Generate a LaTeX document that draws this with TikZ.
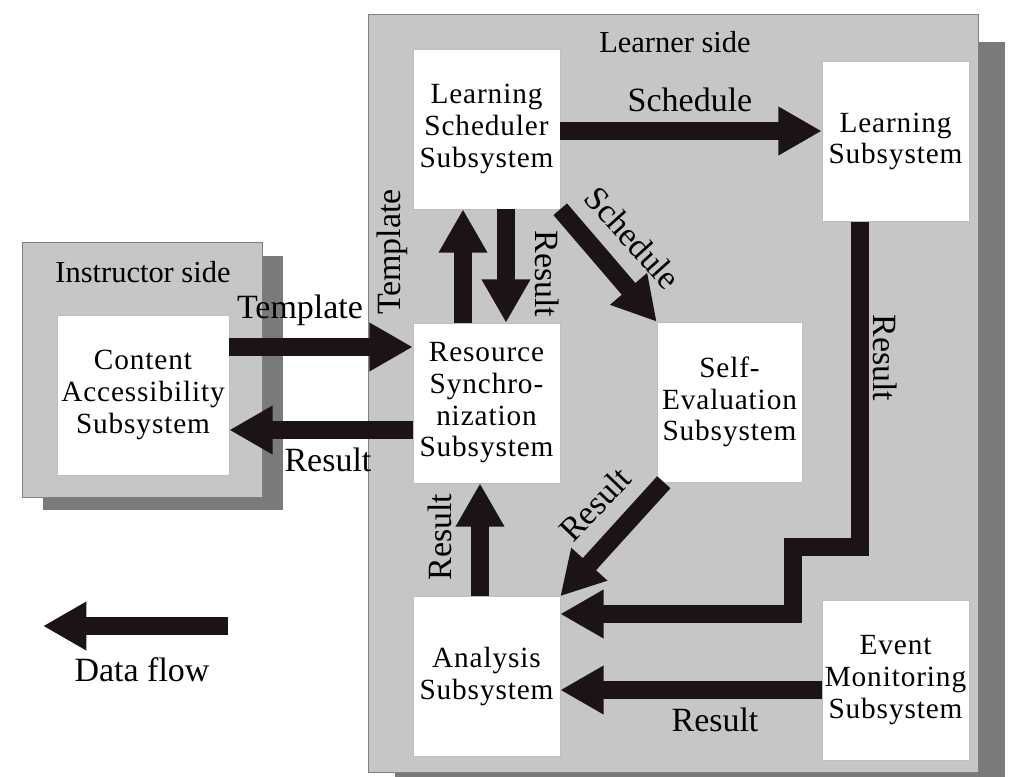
\documentclass[tikz,border=0pt]{standalone}
\usepackage{fontspec}
\setmainfont{Liberation Serif}
\usetikzlibrary{arrows.meta}

\definecolor{panelgray}{RGB}{198,198,198}
\definecolor{shadowgray}{RGB}{122,122,122}
\definecolor{arrowblack}{RGB}{28,20,20}

\begin{document}
\begin{tikzpicture}[x=0.03cm,y=-0.03cm,
	box/.style={draw=gray!50,fill=white,inner sep=0pt,minimum width=4.41cm,minimum height=4.8cm,align=center,font=\fontsize{25}{27}\selectfont\addfontfeatures{LetterSpace=3}},
	flow/.style={draw=arrowblack,line width=15.3pt,line join=miter,-{Triangle[width=39pt,length=37pt]}},
	lab/.style={font=\fontsize{29}{30}\selectfont,inner sep=0pt},
	side/.style={font=\fontsize{26}{28}\selectfont,inner sep=0pt}]
	\useasboundingbox (0,0) rectangle (1024,777);
	% the two sides
	\fill[shadowgray] (43,256) rectangle (283,510);
	\filldraw[fill=panelgray,draw=gray] (22,242) rectangle (262,497);
	\fill[shadowgray] (395,42) rectangle (1005,777);
	\filldraw[fill=panelgray,draw=gray] (368,14) rectangle (978,772);
	\node[side] (IS) at (143,272) {Instructor side};
	\node[side] (LRS) at (675,42) {Learner side};
	% subsystems
	\node[box,minimum width=5.16cm] (CA) at (143,395) {Content\\Accessibility\\Subsystem};
	\node[box] (LS) at (486.5,129) {Learning\\Scheduler\\Subsystem};
	\node[box] (LN) at (895.5,141.5) {Learning\\Subsystem};
	\node[box] (RS) at (486.5,403) {Resource\\Synchro-\\nization\\Subsystem};
	\node[box,minimum width=4.35cm] (SE) at (729.5,402) {Self-\\Evaluation\\Subsystem};
	\node[box] (AN) at (486.5,676.5) {Analysis\\Subsystem};
	\node[box] (EM) at (895.5,680) {Event\\Monitoring\\Subsystem};
	% data flows
	\draw[flow] (CA.east |- 0,347) -- (RS.west |- 0,347);
	\draw[flow] (RS.west |- 0,430) -- (CA.east |- 0,430);
	\draw[flow] (LS.east |- 0,131) -- (LN.west |- 0,131);
	\draw[flow] (RS.north -| 463,0) -- (LS.south -| 463,0);
	\draw[flow] (LS.south -| 506,0) -- (RS.north -| 506,0);
	\draw[flow] (LS.south east) -- (SE.north west);
	\draw[flow] ([xshift=6]SE.south west) -- (AN.north east);
	\draw[flow] (AN.north -| 480,0) -- (RS.south -| 480,0);
	\draw[flow] (LN.south -| 860,0) -- (860,547) -| (793,614) -- (AN.east |- 0,614);
	\draw[flow] (EM.west |- 0,690) -- (AN.east |- 0,690);
	% labels
	\node[lab] (t1) at (300,310) {Template};
	\node[lab] (r1) at (328,460) {Result};
	\node[lab] (s1) at (690,100) {Schedule};
	\node[lab,rotate=90] (t2) at (392,252) {Template};
	\node[lab,rotate=-90] (r2) at (547,274) {Result};
	\node[lab,rotate=-48] (s2) at (633,238) {Schedule};
	\node[lab,rotate=-90] (r3) at (885,358) {Result};
	\node[lab,rotate=90] (r4) at (440,537) {Result};
	\node[lab,rotate=46] (r5) at (595,504) {Result};
	\node[lab] (r6) at (715,720) {Result};
	% legend
	\coordinate (DFa) at (228,626);
	\coordinate (DFb) at (43,626);
	\draw[flow] (DFa) -- (DFb);
	\node[lab] (DF) at (142,670) {Data flow};
\end{tikzpicture}
\end{document}
